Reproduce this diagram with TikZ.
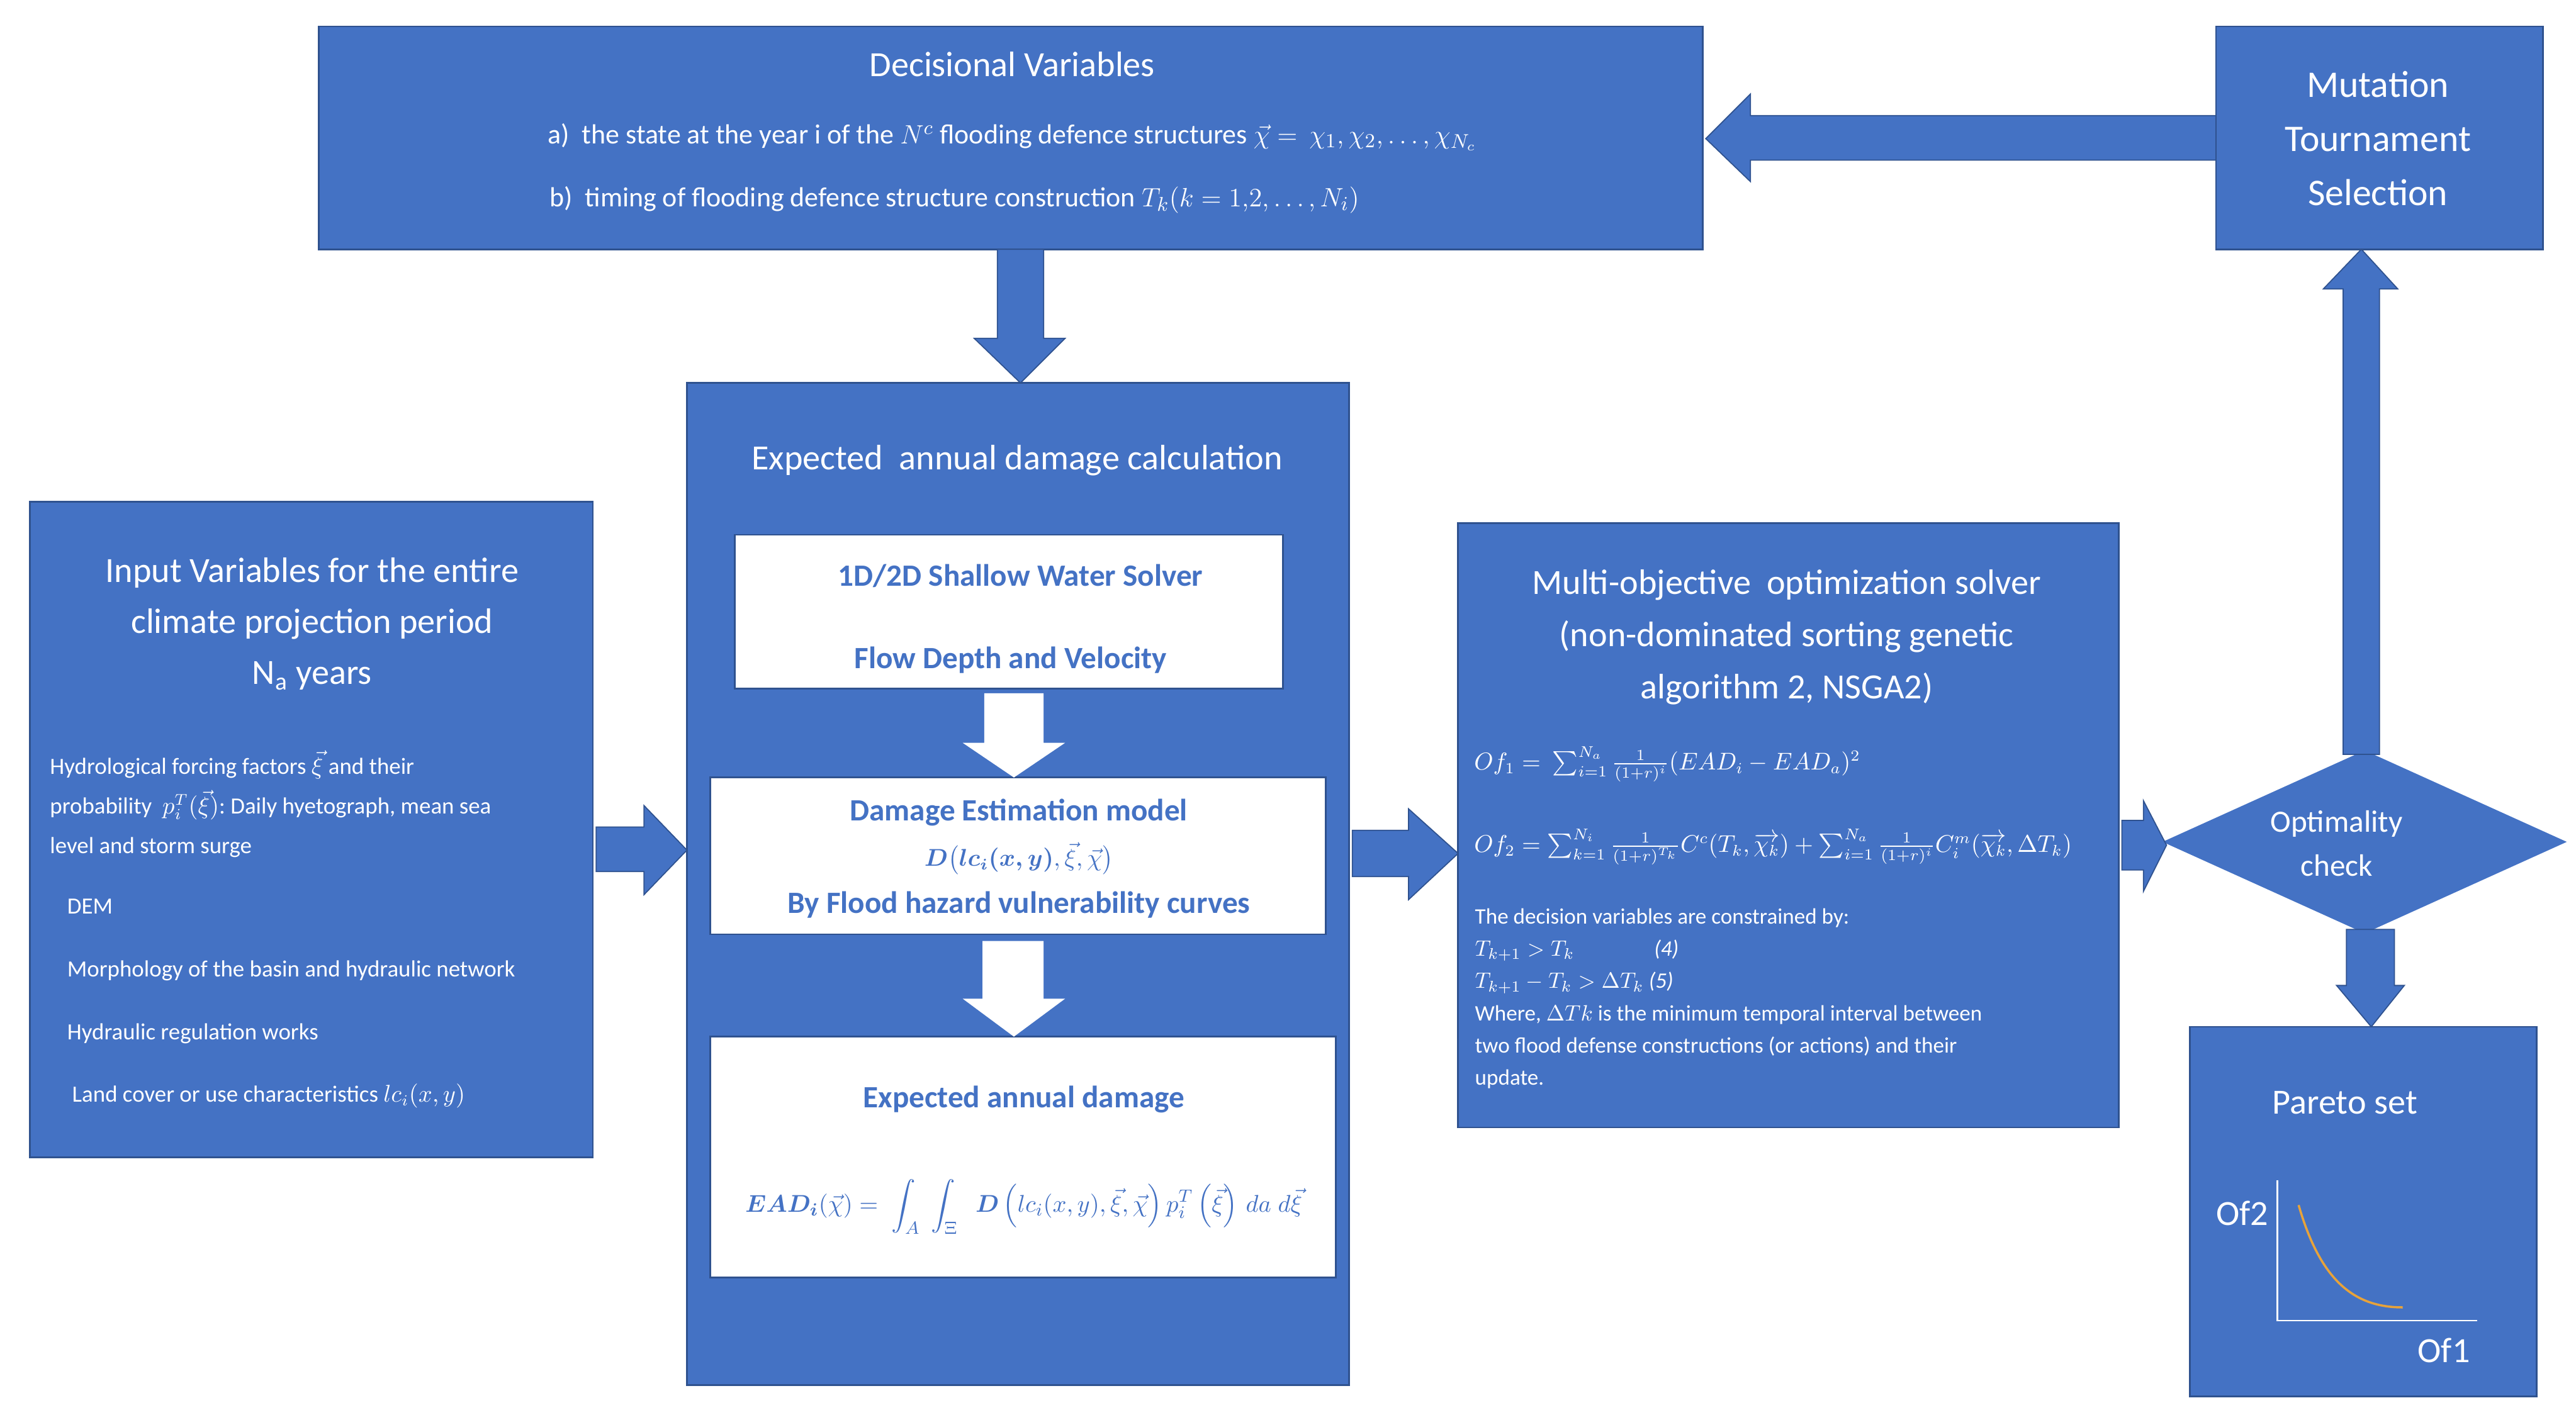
\documentclass[tikz,border=0pt]{standalone}
\usepackage{amsmath}
\usepackage{fontspec}
\setmainfont{Carlito}
\usetikzlibrary{shapes.geometric}
\definecolor{bl}{HTML}{4472C4}
\definecolor{bd}{HTML}{2F528F}
\definecolor{orc}{HTML}{E8A33A}
\begin{document}
\begin{tikzpicture}[x=0.02624cm,y=-0.02624cm,
  bbox/.style={draw=bd,line width=0.8pt,fill=bl,outer sep=0pt},
  wbox/.style={draw=bd,line width=0.8pt,fill=white,outer sep=0pt},
  barrow/.style={fill=bl,draw=bd,line width=0.5pt},
  warrow/.style={fill=white},
  ttl/.style={text=white,font=\fontsize{16}{19}\selectfont,align=center},
  sm/.style={text=white,font=\fontsize{10.5}{13}\selectfont,anchor=west},
  wt/.style={text=bl,font=\bfseries\fontsize{14}{17}\selectfont,align=center}]
\useasboundingbox (0,0) rectangle (1560,860);
% boxes
\node[bbox,minimum width=838*0.02624cm,minimum height=135*0.02624cm,anchor=north west] (dec) at (193,16) {};
\node[bbox,minimum width=198*0.02624cm,minimum height=135*0.02624cm,anchor=north west] (mut) at (1342,16) {};
\node[bbox,minimum width=401*0.02624cm,minimum height=607*0.02624cm,anchor=north west] (ead) at (416,232) {};
\node[bbox,minimum width=341*0.02624cm,minimum height=397*0.02624cm,anchor=north west] (inp) at (18,304) {};
\node[bbox,minimum width=400*0.02624cm,minimum height=366*0.02624cm,anchor=north west] (mo) at (883,317) {};
\node[bbox,minimum width=210*0.02624cm,minimum height=224*0.02624cm,anchor=north west] (par) at (1326,622) {};
\node[wbox,minimum width=332*0.02624cm,minimum height=93*0.02624cm,anchor=north west] (w1) at (445,324) {};
\node[wbox,minimum width=373*0.02624cm,minimum height=95*0.02624cm,anchor=north west] (w2) at (430,471) {};
\node[wbox,minimum width=379*0.02624cm,minimum height=146*0.02624cm,anchor=north west] (w3) at (430,628) {};
\node[diamond,fill=bl,minimum width=245*0.02624cm,minimum height=111*0.02624cm,inner sep=0pt] (opt) at (1432,510) {};
% block arrows
\fill[barrow] (1342,70) -- (1060,70) -- (1060,57) -- (1033,84) -- (1060,110) -- (1060,97) -- (1342,97) -- cycle;
\fill[barrow] (604,151) -- (604,205) -- (590,205) -- (618,232) -- (645,205) -- (632,205) -- (632,151) -- cycle;
\fill[barrow] (361,501) -- (390,501) -- (390,488) -- (416,515) -- (390,542) -- (390,528) -- (361,528) -- cycle;
\fill[barrow] (819,503) -- (853,503) -- (853,490) -- (883,517) -- (853,545) -- (853,531) -- (819,531) -- cycle;
\fill[barrow] (1285,497) -- (1298,497) -- (1298,485) -- (1312,512) -- (1298,540) -- (1298,527) -- (1285,527) -- cycle;
\fill[barrow] (1419,457) -- (1419,175) -- (1407,175) -- (1430,151) -- (1452,175) -- (1441,175) -- (1441,457) -- cycle;
\fill[barrow] (1421,563) -- (1421,597) -- (1415,597) -- (1436,622) -- (1456,597) -- (1450,597) -- (1450,563) -- cycle;
\fill[warrow] (596,420) -- (596,450) -- (583,450) -- (614,471) -- (645,450) -- (632,450) -- (632,420) -- cycle;
\fill[warrow] (595,570) -- (595,605) -- (583,605) -- (614,628) -- (645,605) -- (632,605) -- (632,570) -- cycle;
% texts: decisional
\node[ttl] (t1) at (613,39) {Decisional Variables};
\node[text=white,font=\fontsize{12.5}{15}\selectfont] (t2) at (613,83) {a)\ \ the state at the year i of the $N^c$ flooding defence structures $\vec{\chi}=\,\chi_1,\chi_2,\dots,\chi_{N_c}$};
\node[text=white,font=\fontsize{12.5}{15}\selectfont] (t3) at (578,121) {b)\ \ timing of flooding defence structure construction $T_k(k=1{,}2,\dots,N_i)$};
\node[ttl,font=\fontsize{17}{24.5}\selectfont] (t4) at (1440,84) {Mutation\\Tournament\\Selection};
% EAD
\node[ttl] (t5) at (616,279) {Expected\ \ annual damage calculation};
\node[wt] (t6) at (618,349) {1D/2D Shallow Water Solver};
\node[wt] (t7) at (612,400) {Flow Depth and Velocity};
\node[wt,inner sep=0pt] (t8) at (617,492) {Damage Estimation model};
\node[text=bl,font=\fontsize{10.5}{12}\selectfont,inner sep=0pt] (t9) at (617,520) {$\boldsymbol{D}\bigl(\boldsymbol{lc_i(x,y)},\vec{\xi},\vec{\chi}\bigr)$};
\node[wt,inner sep=0pt] (t10) at (617,548) {By Flood hazard vulnerability curves};
\node[wt] (t11) at (620,666) {Expected annual damage};
\node[text=bl,font=\fontsize{11}{13}\selectfont,inner sep=0pt] (t12) at (620,731) {$\boldsymbol{EAD_i}(\vec{\chi})=\;\displaystyle\int_A\;\int_\Xi\;\; \boldsymbol{D}\left(lc_i(x,y),\vec{\xi},\vec{\chi}\right)p_i^T\left(\vec{\xi}\right)\,da\;d\vec{\xi}$};
% input
\node[ttl,font=\fontsize{16}{23}\selectfont] (t13) at (189,378) {Input Variables for the entire\\climate projection period\\N$_\mathrm{a}$ years};
\node[sm,inner sep=0pt,align=left,font=\fontsize{10.5}{18}\selectfont] (t14) at (30,487) {Hydrological forcing factors $\vec{\xi}$ and their\\probability\ \ $p_i^T(\vec{\xi})$:\ Daily hyetograph, mean sea\\level and storm surge};
\node[sm] (t15) at (36,549) {DEM};
\node[sm] (t16) at (36,588) {Morphology of the basin and hydraulic network};
\node[sm] (t17) at (36,626) {Hydraulic regulation works};
\node[sm] (t18) at (39,664) {Land cover or use characteristics $lc_i(x,y)$};
% multi
\node[ttl,font=\fontsize{16}{23.5}\selectfont] (t19) at (1082,386) {Multi-objective\ \ optimization solver\\(non-dominated sorting genetic\\algorithm 2, NSGA2)};
\node[sm,font=\fontsize{10.5}{12}\selectfont] (t20) at (888,463) {$Of_1=\ \sum_{i=1}^{N_a}\frac{1}{(1+r)^i}(EAD_i-EAD_a)^2$};
\node[sm,font=\fontsize{10.5}{12}\selectfont] (t21) at (888,513) {$Of_2=\sum_{k=1}^{N_i}\frac{1}{(1+r)^{T_k}}C^c(T_k,\overrightarrow{\chi_k})+\sum_{i=1}^{N_a}\frac{1}{(1+r)^i}C_i^m(\overrightarrow{\chi_k},\Delta T_k)$};
\node[sm,align=left,inner sep=0pt,font=\fontsize{10}{14.6}\selectfont,anchor=north west] (t22) at (893,550) {The decision variables are constrained by:\\$T_{k+1}>T_k$\hspace{3.6em}\textit{(4)}\\$T_{k+1}-T_k>\Delta T_k$ \textit{(5)}\\Where, $\Delta Tk$ is the minimum temporal interval between\\two flood defense constructions (or actions) and their\\update.};
% optimality
\node[ttl,font=\fontsize{14}{20}\selectfont] (t23) at (1415,511) {Optimality\\check};
% pareto
\node[ttl] (t24) at (1420,668) {Pareto set};
\coordinate (o) at (1379,800);
\coordinate (ytop) at (1379,715);
\coordinate (xend) at (1500,800);
\draw[white,line width=0.8pt] (ytop) -- (o) -- (xend);
\draw[orc,line width=1pt] (1392,730) .. controls (1405,775) and (1425,792) .. (1455,792);
\node[ttl] (t25) at (1358,735) {Of2};
\node[ttl] (t26) at (1480,818) {Of1};
\end{tikzpicture}
\end{document}
